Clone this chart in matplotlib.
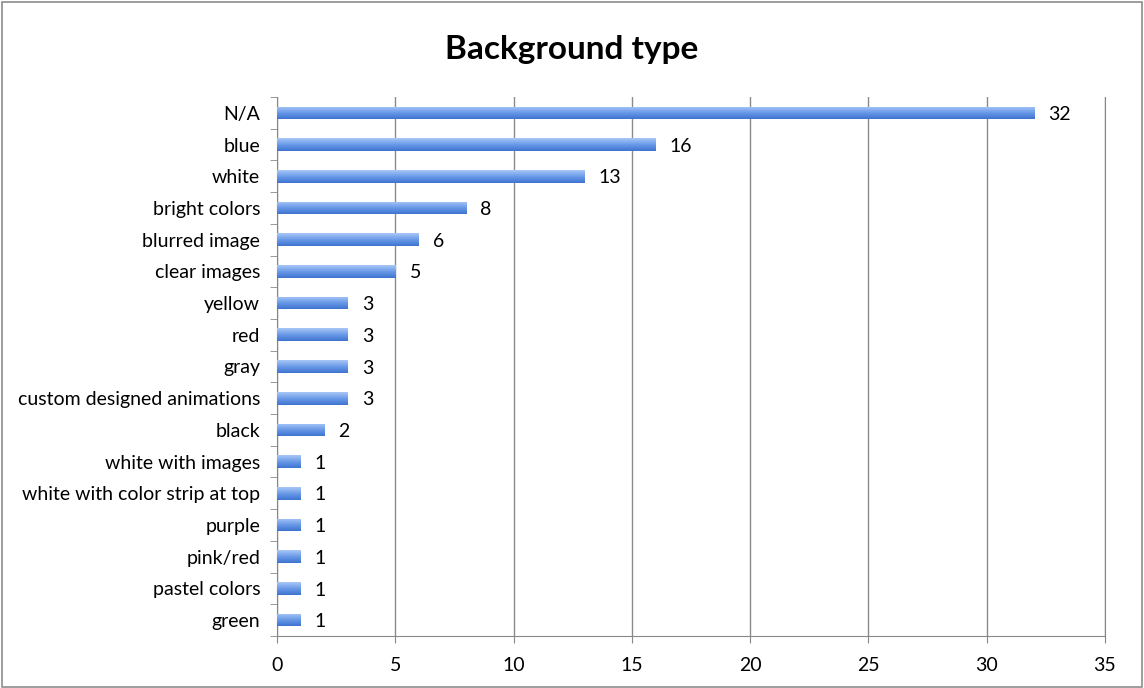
import matplotlib
matplotlib.use("Agg")
import matplotlib.pyplot as plt
import numpy as np
from matplotlib.patches import Rectangle
from matplotlib.colors import LinearSegmentedColormap

categories = ["N/A", "blue", "white", "bright colors", "blurred image", "clear images",
              "yellow", "red", "gray", "custom designed animations", "black",
              "white with images", "white with color strip at top", "purple",
              "pink/red", "pastel colors", "green"]
values = [32, 16, 13, 8, 6, 5, 3, 3, 3, 3, 2, 1, 1, 1, 1, 1, 1]
xticks = [0, 5, 10, 15, 20, 25, 30, 35]
title = "Background type"

plt.rcParams['font.family'] = ['Lato', 'DejaVu Sans']

fig = plt.figure(figsize=(11.44, 6.88), dpi=100)
fig.patches.append(Rectangle((0.0015, 0.002), 0.997, 0.995, transform=fig.transFigure,
                             fill=False, edgecolor='#8c8c8c', linewidth=1.2))
ax = fig.add_axes([0.2421, 0.0756, 0.7238, 0.7834])

y = np.arange(len(categories))[::-1]
bars = ax.barh(y, values, height=0.4, color='#6a9ae8', edgecolor='none', zorder=3)

grad = np.linspace(0, 1, 64).reshape(-1, 1)
cmap = LinearSegmentedColormap.from_list('g', ['#3f74cf', '#6a9ae8', '#a8c8f7'])
for b in bars:
    x0, y0 = b.get_x(), b.get_y()
    w, h = b.get_width(), b.get_height()
    im = ax.imshow(grad, extent=[x0, x0 + w, y0, y0 + h], origin='lower', cmap=cmap,
                   aspect='auto', zorder=4, interpolation='bilinear')
    im.set_clip_path(b)

for yi, v in zip(y, values):
    ax.text(v + 0.6, yi - 0.05, str(v), va='center', ha='left', fontsize=14, color='black', zorder=5)

ax.set_xlim(0, 35)
ax.set_ylim(-0.5, len(categories) - 0.5)
ax.set_xticks(xticks)
ax.set_xticklabels([str(t) for t in xticks], fontsize=14)
ax.set_yticks(y)
ax.set_yticklabels(categories, fontsize=14)
ax.set_yticks(np.arange(-0.5, len(categories), 1), minor=True)
ax.tick_params(axis='y', which='major', length=0, pad=12)
ax.tick_params(axis='y', which='minor', length=5, color='#888888', direction='out')
ax.tick_params(axis='x', length=5, color='#888888', direction='out', pad=10)
ax.grid(axis='x', color='#8a8a8a', linewidth=1, zorder=0)
ax.spines['top'].set_visible(False)
for s in ['left', 'bottom', 'right']:
    ax.spines[s].set_color('#888888')
ax.set_axisbelow(True)

fig.text(0.5, 0.928, title, ha='center', va='center', fontsize=24, fontweight='bold')

fig.savefig('out.png', dpi=100)
